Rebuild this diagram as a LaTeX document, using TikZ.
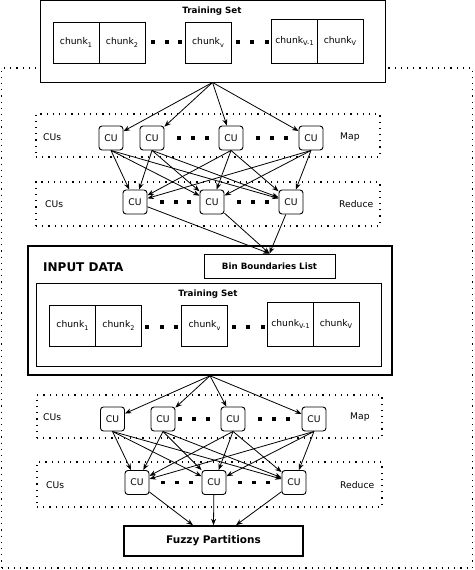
\documentclass[tikz,border=0pt]{standalone}
\usepackage{fontspec}
\setmainfont{DejaVu Sans}
\usetikzlibrary{arrows.meta,calc}
\newcommand{\chk}[1]{chunk\raisebox{-0.5ex}{\fontsize{6.5}{7}\selectfont #1}}
\newcommand{\sqdots}[2]{\foreach \xx in {#1} {\fill (\xx-1.6,#2-1.6) rectangle ++(3.2,3.2);}}
\begin{document}
\begin{tikzpicture}[x=1pt,y=-1pt,
  box/.style={draw, line width=0.9pt, inner sep=0pt, fill=white},
  thickbox/.style={draw, line width=1.6pt, inner sep=0pt, fill=white},
  chunkbox/.style={draw, line width=0.9pt, minimum width=46pt, minimum height=41pt, inner sep=0pt, font=\fontsize{9.2}{10}\selectfont},
  cu/.style={draw, line width=0.9pt, rounded corners=3pt, minimum size=24pt, inner sep=0pt, fill=white, font=\fontsize{9.2}{10}\selectfont},
  dotbox/.style={draw, line width=1.2pt, dash pattern=on 1.2pt off 5pt, inner sep=0pt},
  lbl/.style={anchor=west, inner sep=0pt, font=\fontsize{9.2}{10}\selectfont},
  ttl/.style={inner sep=0pt, font=\bfseries\fontsize{8.7}{10}\selectfont},
  arr/.style={line width=0.8pt, -{Stealth[length=6.5pt,width=5pt]}}
]
\useasboundingbox (0,0) rectangle (474,570);
% outer dotted frame
\node[dotbox, minimum width=471pt, minimum height=500pt] (outer) at (237,318) {};

% ---------- top training set ----------
\node[box, minimum width=345pt, minimum height=82pt] (ts1) at (212.5,41) {};
\node[ttl] (ts1t) at (212,11) {Training Set};
\node[chunkbox] (a1) at (76,42.5) {\chk{1}};
\node[chunkbox] (a2) at (122,42.5) {\chk{2}};
\node[chunkbox] (a3) at (208,42.5) {\chk{v}};
\node[chunkbox, minimum height=44pt] (a4) at (294.5,41) {\chk{V-1}};
\node[chunkbox, minimum height=44pt] (a5) at (340,41) {\chk{V}};
\sqdots{153,167,180}{42}
\sqdots{238,252,267}{42}

% ---------- first map / reduce ----------
\node[dotbox, minimum width=344pt, minimum height=43pt] (mapA) at (208,135.5) {};
\node[dotbox, minimum width=344pt, minimum height=44pt] (redA) at (208,204) {};
\node[lbl] (cuA1) at (43,137) {CUs};
\node[lbl] (mapAl) at (340,137) {Map};
\node[lbl] (cuA2) at (45,204) {CUs};
\node[lbl] (redAl) at (339,204) {Reduce};
\node[cu] (m1) at (111,138) {CU};
\node[cu] (m2) at (152,138) {CU};
\node[cu] (m3) at (231,138) {CU};
\node[cu] (m4) at (311,138) {CU};
\node[cu] (r1) at (135,202) {CU};
\node[cu] (r2) at (212,202) {CU};
\node[cu] (r3) at (291,202) {CU};
\sqdots{179,193,207}{138}
\sqdots{258,272,286}{138}
\sqdots{162,176,189}{202}
\sqdots{239,253,267}{202}
\foreach \m in {m1,m2,m3,m4} {\draw[arr] (ts1.south) -- (\m);}
\foreach \m in {m1,m2,m3,m4} {\foreach \r in {r1,r2,r3} {\draw[arr] (\m.south) -- (\r);}}

% ---------- input data ----------
\node[thickbox, minimum width=364pt, minimum height=129pt] (idb) at (210,310.5) {};
\node[anchor=west, inner sep=0pt, font=\bfseries\fontsize{12}{14}\selectfont] (idt) at (43,267) {INPUT DATA};
\node[box, minimum width=131pt, minimum height=24pt, font=\bfseries\fontsize{8.7}{10}\selectfont] (bin) at (269.5,266) {Bin Boundaries List};
\node[box, minimum width=345pt, minimum height=83pt] (ts2) at (208.5,324.5) {};
\node[ttl] (ts2t) at (208,294) {Training Set};
\node[chunkbox] (b1) at (72.5,325.5) {\chk{1}};
\node[chunkbox] (b2) at (118.5,325.5) {\chk{2}};
\node[chunkbox] (b3) at (204.5,325.5) {\chk{v}};
\node[chunkbox, minimum height=44pt] (b4) at (290.5,324) {\chk{V-1}};
\node[chunkbox, minimum height=44pt] (b5) at (336,324) {\chk{V}};
\sqdots{147,162,176}{327}
\sqdots{234,248,263}{327}
\foreach \r in {r1,r2,r3} {\draw[arr] (\r) -- (bin.north);}

% ---------- second map / reduce ----------
\node[dotbox, minimum width=345pt, minimum height=43pt] (mapB) at (209.5,416.5) {};
\node[dotbox, minimum width=345pt, minimum height=45pt] (redB) at (209.5,484.5) {};
\node[lbl] (cuB1) at (43,417) {CUs};
\node[lbl] (mapBl) at (350,417) {Map};
\node[lbl] (cuB2) at (46,485) {CUs};
\node[lbl] (redBl) at (340,485) {Reduce};
\node[cu] (m5) at (112.5,419) {CU};
\node[cu] (m6) at (163,419) {CU};
\node[cu] (m7) at (233,419) {CU};
\node[cu] (m8) at (314,419) {CU};
\node[cu] (r4) at (137,482.5) {CU};
\node[cu] (r5) at (214,482.5) {CU};
\node[cu] (r6) at (294,482.5) {CU};
\sqdots{180,194,208}{419}
\sqdots{260,274,288}{419}
\sqdots{163,177,191}{482.5}
\sqdots{240,254,268}{482.5}
\foreach \m in {m5,m6,m7,m8} {\draw[arr] (idb.south) -- (\m);}
\foreach \m in {m5,m6,m7,m8} {\foreach \r in {r4,r5,r6} {\draw[arr] (\m.south) -- (\r);}}

% ---------- fuzzy partitions ----------
\node[thickbox, minimum width=179pt, minimum height=30pt, font=\bfseries\fontsize{10.5}{12}\selectfont] (fz) at (213.5,541) {Fuzzy Partitions};
\draw[arr] (r4) -- ([xshift=-20.5pt]fz.north);
\draw[arr] (r5) -- (fz.north);
\draw[arr] (r6) -- ([xshift=22.5pt]fz.north);
\end{tikzpicture}
\end{document}
